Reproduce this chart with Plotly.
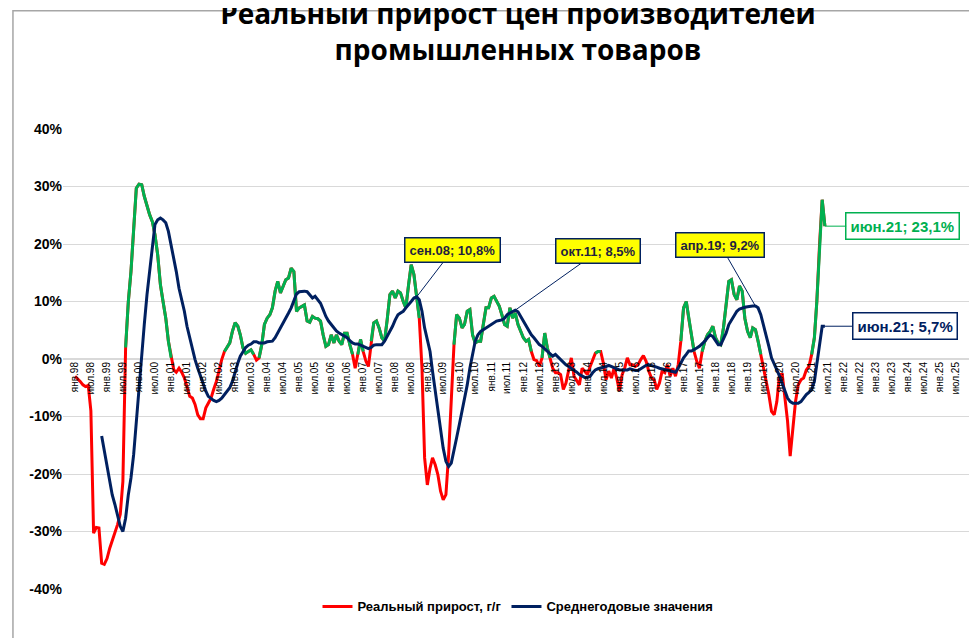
import plotly.graph_objects as go
import pandas as pd

# monthly data, Jan 1998 .. Jun 2021
real_growth = [
    -3.0, -3.4, -3.9, -4.5, -4.8, -4.6, -9.0, -30.3, -29.3, -29.4, -35.5, -35.7,   # 1998
    -34.7, -32.9, -31.7, -30.0, -28.8, -27.0, -21.3, 2.0, 10.0, 15.2, 22.0, 29.7,  # 1999
    30.4, 30.3, 28.3, 26.5, 25.1, 23.9, 21.6, 18.1, 12.9, 10.0, 7.1, 3.1,          # 2000
    0.2, -1.9, -2.3, -1.6, -2.3, -3.3, -4.8, -6.5, -6.8, -7.9, -9.7, -10.4,        # 2001
    -10.4, -8.5, -7.7, -6.8, -5.3, -3.9, -2.1, -0.1, 1.3, 2.0, 2.8, 4.8,           # 2002
    6.3, 5.7, 4.2, 1.9, 1.0, 1.3, 1.6, 0.8, -0.2, 0.2, 2.5, 6.0,                   # 2003
    7.1, 7.7, 8.9, 11.8, 13.5, 11.5, 12.6, 13.8, 14.1, 15.8, 15.2, 8.3,            # 2004
    8.9, 9.2, 9.4, 6.6, 6.4, 7.4, 7.1, 7.0, 6.6, 4.2, 2.2, 2.5,                    # 2005
    4.2, 2.8, 4.2, 3.1, 2.5, 4.5, 4.5, 2.5, 0.8, -1.6, 0.8, 3.4,                   # 2006
    1.3, -0.4, -1.3, 3.1, 6.3, 6.6, 5.4, 3.7, 3.1, 6.8, 11.2, 11.8,                # 2007
    10.6, 11.8, 11.5, 10.0, 8.9, 12.9, 16.4, 14.7, 11.2, 7.1, -1.6, -17.2,         # 2008
    -21.9, -19.0, -17.2, -18.4, -20.1, -23.0, -24.5, -23.6, -16.6, -7.4, 2.5, 7.7, # 2009
    7.1, 5.4, 6.0, 8.3, 8.6, 4.2, 2.8, 3.1, 3.1, 6.0, 8.9, 8.9,                    # 2010
    10.6, 10.9, 10.0, 9.2, 7.7, 6.0, 5.7, 8.9, 7.1, 8.0, 6.0, 4.8,                 # 2011
    3.7, 3.1, 3.4, 1.3, -0.1, -0.3, -1.3, 0.2, 4.5, 1.9, 0.2, -1.6,                # 2012
    -2.4, -2.4, -2.7, -5.3, -4.2, -1.6, 0.2, -3.0, -3.9, -4.5, -1.6, -2.1,         # 2013
    -2.7, -1.3, -0.1, 1.0, 1.3, 1.3, -0.7, -3.6, -2.1, -3.3, -1.6, -3.3,           # 2014
    -5.6, -2.7, -1.6, 0.2, -1.0, -1.0, -1.3, -1.0, -0.1, 0.6, -0.4, -2.1,          # 2015
    -3.3, -3.6, -5.3, -4.2, -2.1, -2.4, -1.0, -3.0, -1.6, -3.0, -1.0, 3.1,         # 2016
    8.9, 10.0, 7.1, 3.7, 1.3, -0.4, -1.6, 1.3, 3.1, 4.2, 4.8, 5.7,                 # 2017
    3.7, 2.8, 2.5, 5.4, 8.9, 13.5, 13.8, 11.2, 10.3, 12.7, 11.8, 7.1,              # 2018
    4.8, 3.7, 5.4, 5.1, 3.1, 0.8, -1.6, -3.9, -6.2, -9.1, -9.7, -7.4,              # 2019
    -2.7, -2.7, -6.2, -10.8, -16.9, -12.6, -7.4, -4.5, -3.6, -3.3, -1.9, -1.3,     # 2020
    0.8, 3.7, 10.0, 19.9, 27.7, 23.1,                                              # 2021
]

# 12-month average, starts Nov 1998
avg_values = [None] * 10 + [
    -13.4, -16.0,                                                                  # 1998
    -18.4, -21.3, -23.6, -25.3, -27.1, -29.1, -30.0, -27.7, -23.6, -20.7, -16.6, -10.8,
    -4.5, 0.8, 6.0, 11.2, 15.2, 19.3, 23.4, 24.2, 24.5, 24.2, 23.7, 22.2,
    19.9, 17.6, 15.2, 12.3, 10.3, 8.3, 5.7, 3.7, 1.9, -0.1, -1.6, -3.0,
    -4.5, -5.6, -6.5, -6.9, -7.2, -7.4, -7.2, -6.8, -6.2, -5.6, -5.0, -3.9,
    -2.1, -0.7, 0.5, 1.3, 2.0, 2.4, 2.6, 3.0, 3.0, 2.8, 2.8, 2.8,
    3.0, 3.0, 3.1, 3.7, 4.5, 5.4, 6.3, 7.1, 8.0, 8.9, 10.3, 11.3,
    11.7, 11.8, 11.8, 11.7, 11.2, 10.6, 10.9, 10.3, 9.7, 8.6, 7.4, 6.6,
    6.0, 5.5, 4.9, 4.5, 4.2, 3.9, 3.7, 3.2, 2.8, 2.6, 2.6, 2.4,
    2.2, 1.9, 1.8, 2.0, 2.4, 2.5, 2.5, 2.5, 3.1, 3.9, 4.8, 5.7,
    6.8, 7.7, 8.0, 8.3, 8.9, 9.4, 10.0, 10.6, 10.8, 10.3, 8.3, 5.4,
    3.1, 1.3, -2.1, -5.6, -9.1, -12.6, -15.5, -17.8, -18.7, -18.1, -16.1, -13.7,
    -11.4, -9.1, -6.8, -4.5, -1.6, 1.0, 3.1, 4.2, 4.8, 5.1, 5.4, 5.7,
    6.1, 6.4, 6.6, 6.7, 6.8, 7.1, 7.7, 8.0, 8.3, 8.5, 8.2, 7.4,
    6.6, 5.7, 4.8, 4.2, 3.7, 3.1, 2.5, 2.2, 1.8, 1.4, 1.0, 0.5,
    0.8, 0.3, -0.2, -0.6, -1.0, -1.3, -1.6, -1.9, -2.3, -2.7, -3.0, -3.2,
    -3.2, -3.0, -2.4, -1.9, -1.7, -1.6, -1.4, -1.3, -1.1, -1.3, -1.4, -1.6,
    -1.9, -1.9, -1.9, -1.9, -1.7, -1.9, -2.0, -2.0, -1.7, -1.4, -1.1, -1.0,
    -1.1, -1.3, -1.4, -1.6, -1.7, -1.9, -1.9, -2.0, -2.1, -2.3, -1.6, -0.7,
    0.2, 0.8, 1.4, 1.4, 1.6, 1.9, 2.2, 2.6, 3.1, 3.7, 4.2, 3.9,
    3.1, 2.5, 2.5, 3.4, 4.5, 6.0, 6.8, 7.7, 8.3, 8.7, 8.9, 9.0,
    9.1, 9.2, 9.2, 9.2, 8.9, 7.7, 6.0, 4.2, 2.2, 0.2, -1.0, -1.9,
    -3.0, -4.2, -5.6, -6.8, -7.4, -7.7, -7.7, -7.7, -7.4, -6.7, -6.2, -5.8,
    -5.3, -3.9, -1.0, 3.1, 5.7, 5.7,
]

months = pd.date_range("1998-01-01", periods=len(real_growth), freq="MS")

tick_dates = pd.date_range("1998-01-01", "2025-07-01", freq="6MS")
mon_names = {1: "янв", 7: "июл"}
tick_text = [f"{mon_names[d.month]}.{d.year % 100:02d}" for d in tick_dates]

y_ticks = [-40, -30, -20, -10, 0, 10, 20, 30, 40]

# callouts: (date, value, text, box style, ax, ay)
callouts = [
    ("2008-09-01", 10.8, "сен.08; 10,8%", "y", 36, -47),
    ("2011-10-01", 8.5, "окт.11; 8,5%", "y", 83, -59),
    ("2019-04-01", 9.2, "апр.19; 9,2%", "y", -35, -61),
    ("2021-06-01", 23.1, "июн.21; 23,1%", "g", 78, 0),
    ("2021-06-01", 5.7, "июн.21; 5,7%", "n", 80, 0),
]

RED = "#FF0000"
GREEN = "#00B050"
NAVY = "#002060"

green_part = [v if v >= 0 else None for v in real_growth]

fig = go.Figure()
fig.add_trace(go.Scatter(x=months, y=real_growth, mode="lines", name="<b>Реальный прирост, г/г</b>",
                         line=dict(color=RED, width=3)))
fig.add_trace(go.Scatter(x=months, y=green_part, mode="lines", showlegend=False,
                         line=dict(color=GREEN, width=3), connectgaps=False))
fig.add_trace(go.Scatter(x=months, y=avg_values, mode="lines", name="<b>Среднегодовые значения</b>",
                         line=dict(color=NAVY, width=3)))

for d, v, txt, style, ax, ay in callouts:
    if style == "y":
        bg, border, fc = "#FFFF00", NAVY, "#1F1F3F"
    elif style == "g":
        bg, border, fc = "white", GREEN, GREEN
    else:
        bg, border, fc = "white", NAVY, NAVY
    fig.add_annotation(x=d, y=v, text=f"<b>{txt}</b>", showarrow=True, arrowhead=0,
                       arrowwidth=1, arrowcolor=border, ax=ax, ay=ay,
                       bgcolor=bg, bordercolor=border, borderwidth=1.5, borderpad=4,
                       font=dict(size=13 if style == "y" else 15, color=fc,
                                 family="Liberation Sans"))

fig.update_layout(
    width=977, height=638,
    margin=dict(l=55, r=12, t=121, b=57, autoexpand=False),
    paper_bgcolor="white", plot_bgcolor="white",
    title=dict(text="<b>Реальный прирост цен производителей<br>промышленных товаров</b>",
               x=0.5, xanchor="center", xref="paper", y=0.975, yanchor="top", yref="container",
               font=dict(size=28, color="black", family="Open Sans")),
    font=dict(family="Liberation Sans", color="black"),
    legend=dict(orientation="h", x=0.5, xanchor="center", y=0.062, yanchor="middle",
                yref="container", font=dict(size=13, family="Liberation Sans"),
                traceorder="normal"),
    shapes=[dict(type="rect", xref="paper", yref="paper", x0=-0.055, x1=1.011,
                 y0=-0.119, y1=1.257, line=dict(color="#A6A6A6", width=1.5))],
)
fig.update_xaxes(range=["1997-08-17", "2026-01-15"], tickvals=tick_dates, ticktext=tick_text,
                 tickangle=-90, tickfont=dict(size=10), showgrid=False, showline=False,
                 ticks="", anchor="free", position=0.5)
fig.update_yaxes(range=[-40, 40], tickvals=y_ticks,
                 ticktext=[f"<b>{t}%</b>" for t in y_ticks], showgrid=True,
                 gridcolor="#D9D9D9", zeroline=True, zerolinecolor="#D9D9D9",
                 zerolinewidth=1.5, tickfont=dict(size=14, family="Liberation Sans"))

fig.write_html("out.html")
